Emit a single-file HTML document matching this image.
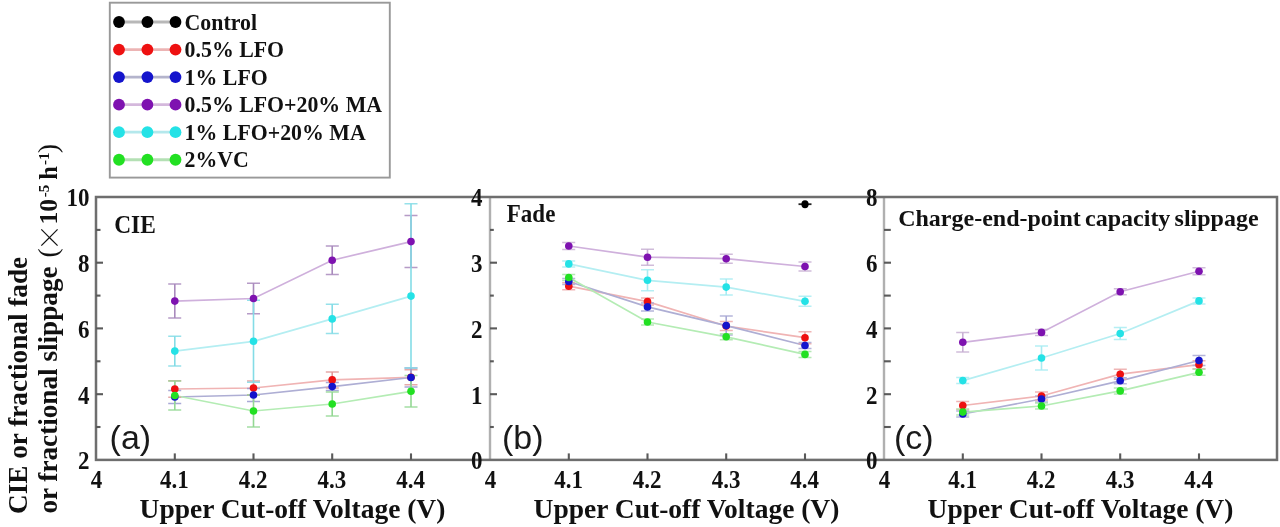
<!DOCTYPE html>
<html><head><meta charset="utf-8"><style>
html,body{margin:0;padding:0;background:#fff;}
body{width:1280px;height:527px;overflow:hidden;}
svg{display:block;filter:blur(0.55px);}
text{font-family:"Liberation Serif", "Times New Roman", serif;font-weight:bold;fill:#111;}
.lg{font-size:21.85px;}
.tk{font-size:23px;}
.xl{font-size:27.5px;}
.ttl{font-size:23px;}
.pl{font-family:"Liberation Sans", Arial, sans-serif;font-weight:normal;font-size:34px;fill:#1a1a1a;}
.yl{font-size:27.2px;}
.cj{font-family:"Noto Serif CJK SC","Noto Sans CJK SC",serif;font-weight:normal;font-size:28px;}
.rg{font-weight:normal;}
.ym{font-size:25.5px;}
.sup{font-size:15px;}
</style></head><body>
<svg width="1280" height="527" viewBox="0 0 1280 527">
<rect x="109.8" y="2.7" width="280" height="174.9" fill="#fff" stroke="#999" stroke-width="1.9"/>
<line x1="119" y1="22.0" x2="175.5" y2="22.0" stroke="#b8b8b8" stroke-width="2.8"/>
<circle cx="119" cy="22.0" r="5.9" fill="#000000"/>
<circle cx="147.4" cy="22.0" r="5.9" fill="#000000"/>
<circle cx="175.5" cy="22.0" r="5.9" fill="#000000"/>
<text transform="translate(184.6,29.7) scale(1,1.06)" class="lg">Control</text>
<line x1="119" y1="49.55" x2="175.5" y2="49.55" stroke="#ecb4b4" stroke-width="2.8"/>
<circle cx="119" cy="49.55" r="5.9" fill="#ee1111"/>
<circle cx="147.4" cy="49.55" r="5.9" fill="#ee1111"/>
<circle cx="175.5" cy="49.55" r="5.9" fill="#ee1111"/>
<text transform="translate(184.6,57.2) scale(1,1.06)" class="lg">0.5% LFO</text>
<line x1="119" y1="77.1" x2="175.5" y2="77.1" stroke="#b4b4cc" stroke-width="2.8"/>
<circle cx="119" cy="77.1" r="5.9" fill="#1414cc"/>
<circle cx="147.4" cy="77.1" r="5.9" fill="#1414cc"/>
<circle cx="175.5" cy="77.1" r="5.9" fill="#1414cc"/>
<text transform="translate(184.6,84.8) scale(1,1.06)" class="lg">1% LFO</text>
<line x1="119" y1="104.65" x2="175.5" y2="104.65" stroke="#d4b8dc" stroke-width="2.8"/>
<circle cx="119" cy="104.65" r="5.9" fill="#7e12b0"/>
<circle cx="147.4" cy="104.65" r="5.9" fill="#7e12b0"/>
<circle cx="175.5" cy="104.65" r="5.9" fill="#7e12b0"/>
<text transform="translate(184.6,112.4) scale(1,1.06)" class="lg">0.5% LFO+20% MA</text>
<line x1="119" y1="132.2" x2="175.5" y2="132.2" stroke="#b4e8ec" stroke-width="2.8"/>
<circle cx="119" cy="132.2" r="5.9" fill="#24e2e6"/>
<circle cx="147.4" cy="132.2" r="5.9" fill="#24e2e6"/>
<circle cx="175.5" cy="132.2" r="5.9" fill="#24e2e6"/>
<text transform="translate(184.6,139.9) scale(1,1.06)" class="lg">1% LFO+20% MA</text>
<line x1="119" y1="159.75" x2="175.5" y2="159.75" stroke="#b4e0b4" stroke-width="2.8"/>
<circle cx="119" cy="159.75" r="5.9" fill="#22e022"/>
<circle cx="147.4" cy="159.75" r="5.9" fill="#22e022"/>
<circle cx="175.5" cy="159.75" r="5.9" fill="#22e022"/>
<text transform="translate(184.6,167.4) scale(1,1.06)" class="lg">2%VC</text>
<line x1="490.0" y1="197.0" x2="490.0" y2="459.9" stroke="#b0b0b0" stroke-width="2.4"/>
<line x1="884.0" y1="197.0" x2="884.0" y2="459.9" stroke="#b0b0b0" stroke-width="2.4"/>
<rect x="96.0" y="197.0" width="1181.0" height="262.9" fill="none" stroke="#6e6e6e" stroke-width="2.5"/>
<line x1="96.0" y1="427.0" x2="100.5" y2="427.0" stroke="#5a5a5a" stroke-width="2.1"/>
<line x1="96.0" y1="394.2" x2="103.0" y2="394.2" stroke="#5a5a5a" stroke-width="2.1"/>
<line x1="96.0" y1="361.3" x2="100.5" y2="361.3" stroke="#5a5a5a" stroke-width="2.1"/>
<line x1="96.0" y1="328.4" x2="103.0" y2="328.4" stroke="#5a5a5a" stroke-width="2.1"/>
<line x1="96.0" y1="295.6" x2="100.5" y2="295.6" stroke="#5a5a5a" stroke-width="2.1"/>
<line x1="96.0" y1="262.7" x2="103.0" y2="262.7" stroke="#5a5a5a" stroke-width="2.1"/>
<line x1="96.0" y1="229.9" x2="100.5" y2="229.9" stroke="#5a5a5a" stroke-width="2.1"/>
<line x1="174.8" y1="459.9" x2="174.8" y2="453.4" stroke="#5a5a5a" stroke-width="2.1"/>
<line x1="253.5" y1="459.9" x2="253.5" y2="453.4" stroke="#5a5a5a" stroke-width="2.1"/>
<line x1="332.2" y1="459.9" x2="332.2" y2="453.4" stroke="#5a5a5a" stroke-width="2.1"/>
<line x1="411.0" y1="459.9" x2="411.0" y2="453.4" stroke="#5a5a5a" stroke-width="2.1"/>
<line x1="490.0" y1="427.0" x2="493.8" y2="427.0" stroke="#5a5a5a" stroke-width="2.1"/>
<line x1="490.0" y1="394.2" x2="497.0" y2="394.2" stroke="#5a5a5a" stroke-width="2.1"/>
<line x1="490.0" y1="361.3" x2="493.8" y2="361.3" stroke="#5a5a5a" stroke-width="2.1"/>
<line x1="490.0" y1="328.4" x2="497.0" y2="328.4" stroke="#5a5a5a" stroke-width="2.1"/>
<line x1="490.0" y1="295.6" x2="493.8" y2="295.6" stroke="#5a5a5a" stroke-width="2.1"/>
<line x1="490.0" y1="262.7" x2="497.0" y2="262.7" stroke="#5a5a5a" stroke-width="2.1"/>
<line x1="490.0" y1="229.9" x2="493.8" y2="229.9" stroke="#5a5a5a" stroke-width="2.1"/>
<line x1="568.8" y1="459.9" x2="568.8" y2="453.4" stroke="#5a5a5a" stroke-width="2.1"/>
<line x1="647.5" y1="459.9" x2="647.5" y2="453.4" stroke="#5a5a5a" stroke-width="2.1"/>
<line x1="726.2" y1="459.9" x2="726.2" y2="453.4" stroke="#5a5a5a" stroke-width="2.1"/>
<line x1="805.0" y1="459.9" x2="805.0" y2="453.4" stroke="#5a5a5a" stroke-width="2.1"/>
<line x1="884.0" y1="427.0" x2="890.8" y2="427.0" stroke="#5a5a5a" stroke-width="2.1"/>
<line x1="884.0" y1="394.2" x2="891.0" y2="394.2" stroke="#5a5a5a" stroke-width="2.1"/>
<line x1="884.0" y1="361.3" x2="890.8" y2="361.3" stroke="#5a5a5a" stroke-width="2.1"/>
<line x1="884.0" y1="328.4" x2="891.0" y2="328.4" stroke="#5a5a5a" stroke-width="2.1"/>
<line x1="884.0" y1="295.6" x2="890.8" y2="295.6" stroke="#5a5a5a" stroke-width="2.1"/>
<line x1="884.0" y1="262.7" x2="891.0" y2="262.7" stroke="#5a5a5a" stroke-width="2.1"/>
<line x1="884.0" y1="229.9" x2="890.8" y2="229.9" stroke="#5a5a5a" stroke-width="2.1"/>
<line x1="962.8" y1="459.9" x2="962.8" y2="453.4" stroke="#5a5a5a" stroke-width="2.1"/>
<line x1="1041.5" y1="459.9" x2="1041.5" y2="453.4" stroke="#5a5a5a" stroke-width="2.1"/>
<line x1="1120.2" y1="459.9" x2="1120.2" y2="453.4" stroke="#5a5a5a" stroke-width="2.1"/>
<line x1="1199.0" y1="459.9" x2="1199.0" y2="453.4" stroke="#5a5a5a" stroke-width="2.1"/>
<polyline points="174.8,389.0 253.5,388.0 332.2,379.9 411.0,377.3" fill="none" stroke="#f0b4b4" stroke-width="1.7"/>
<polyline points="174.8,397.0 253.5,395.0 332.2,386.6 411.0,377.5" fill="none" stroke="#aeaed4" stroke-width="1.7"/>
<polyline points="174.8,301.1 253.5,298.5 332.2,260.2 411.0,241.6" fill="none" stroke="#cfb0dc" stroke-width="1.7"/>
<polyline points="174.8,351.1 253.5,341.3 332.2,318.9 411.0,296.1" fill="none" stroke="#b4eef2" stroke-width="1.7"/>
<polyline points="174.8,395.5 253.5,411.0 332.2,404.0 411.0,391.3" fill="none" stroke="#b4ecb4" stroke-width="1.7"/>
<path d="M174.8 380.8V397.2" stroke="#e29a9a" stroke-width="1.6" fill="none"/><path d="M168.2 380.8h13M168.2 397.2h13" stroke="#e29a9a" stroke-width="1.5" fill="none" opacity="0.85"/>
<path d="M253.5 381.0V395.0" stroke="#e29a9a" stroke-width="1.6" fill="none"/><path d="M247.0 381.0h13M247.0 395.0h13" stroke="#e29a9a" stroke-width="1.5" fill="none" opacity="0.85"/>
<path d="M332.2 371.9V387.9" stroke="#e29a9a" stroke-width="1.6" fill="none"/><path d="M325.8 371.9h13M325.8 387.9h13" stroke="#e29a9a" stroke-width="1.5" fill="none" opacity="0.85"/>
<path d="M411.0 369.8V384.8" stroke="#e29a9a" stroke-width="1.6" fill="none"/><path d="M404.5 369.8h13M404.5 384.8h13" stroke="#e29a9a" stroke-width="1.5" fill="none" opacity="0.85"/>
<path d="M174.8 390.5V403.5" stroke="#9a9ad0" stroke-width="1.6" fill="none"/><path d="M168.2 390.5h13M168.2 403.5h13" stroke="#9a9ad0" stroke-width="1.5" fill="none" opacity="0.85"/>
<path d="M253.5 388.4V401.6" stroke="#9a9ad0" stroke-width="1.6" fill="none"/><path d="M247.0 388.4h13M247.0 401.6h13" stroke="#9a9ad0" stroke-width="1.5" fill="none" opacity="0.85"/>
<path d="M332.2 382.6V390.6" stroke="#9a9ad0" stroke-width="1.6" fill="none"/><path d="M325.8 382.6h13M325.8 390.6h13" stroke="#9a9ad0" stroke-width="1.5" fill="none" opacity="0.85"/>
<path d="M411.0 368.0V387.0" stroke="#9a9ad0" stroke-width="1.6" fill="none"/><path d="M404.5 368.0h13M404.5 387.0h13" stroke="#9a9ad0" stroke-width="1.5" fill="none" opacity="0.85"/>
<path d="M174.8 284.1V318.1" stroke="#a98abd" stroke-width="1.6" fill="none"/><path d="M168.2 284.1h13M168.2 318.1h13" stroke="#a98abd" stroke-width="1.5" fill="none" opacity="0.85"/>
<path d="M253.5 283.3V313.7" stroke="#a98abd" stroke-width="1.6" fill="none"/><path d="M247.0 283.3h13M247.0 313.7h13" stroke="#a98abd" stroke-width="1.5" fill="none" opacity="0.85"/>
<path d="M332.2 246.0V274.4" stroke="#a98abd" stroke-width="1.6" fill="none"/><path d="M325.8 246.0h13M325.8 274.4h13" stroke="#a98abd" stroke-width="1.5" fill="none" opacity="0.85"/>
<path d="M411.0 215.6V267.6" stroke="#a98abd" stroke-width="1.6" fill="none"/><path d="M404.5 215.6h13M404.5 267.6h13" stroke="#a98abd" stroke-width="1.5" fill="none" opacity="0.85"/>
<path d="M174.8 336.3V365.9" stroke="#84dce6" stroke-width="1.6" fill="none"/><path d="M168.2 336.3h13M168.2 365.9h13" stroke="#84dce6" stroke-width="1.5" fill="none" opacity="0.85"/>
<path d="M253.5 300.3V382.3" stroke="#84dce6" stroke-width="1.6" fill="none"/><path d="M247.0 300.3h13M247.0 382.3h13" stroke="#84dce6" stroke-width="1.5" fill="none" opacity="0.85"/>
<path d="M332.2 304.3V333.5" stroke="#84dce6" stroke-width="1.6" fill="none"/><path d="M325.8 304.3h13M325.8 333.5h13" stroke="#84dce6" stroke-width="1.5" fill="none" opacity="0.85"/>
<path d="M411.0 203.7V368.0" stroke="#84dce6" stroke-width="1.6" fill="none"/><path d="M404.5 203.7h13M404.5 368.0h13" stroke="#84dce6" stroke-width="1.5" fill="none" opacity="0.85"/>
<path d="M174.8 381.0V410.0" stroke="#94d894" stroke-width="1.6" fill="none"/><path d="M168.2 381.0h13M168.2 410.0h13" stroke="#94d894" stroke-width="1.5" fill="none" opacity="0.85"/>
<path d="M253.5 395.0V427.0" stroke="#94d894" stroke-width="1.6" fill="none"/><path d="M247.0 395.0h13M247.0 427.0h13" stroke="#94d894" stroke-width="1.5" fill="none" opacity="0.85"/>
<path d="M332.2 392.0V416.0" stroke="#94d894" stroke-width="1.6" fill="none"/><path d="M325.8 392.0h13M325.8 416.0h13" stroke="#94d894" stroke-width="1.5" fill="none" opacity="0.85"/>
<path d="M411.0 375.6V407.0" stroke="#94d894" stroke-width="1.6" fill="none"/><path d="M404.5 375.6h13M404.5 407.0h13" stroke="#94d894" stroke-width="1.5" fill="none" opacity="0.85"/>
<circle cx="174.8" cy="389.0" r="3.8" fill="#ee1111"/>
<circle cx="253.5" cy="388.0" r="3.8" fill="#ee1111"/>
<circle cx="332.2" cy="379.9" r="3.8" fill="#ee1111"/>
<circle cx="411.0" cy="377.3" r="3.8" fill="#ee1111"/>
<circle cx="174.8" cy="397.0" r="3.8" fill="#1414cc"/>
<circle cx="253.5" cy="395.0" r="3.8" fill="#1414cc"/>
<circle cx="332.2" cy="386.6" r="3.8" fill="#1414cc"/>
<circle cx="411.0" cy="377.5" r="3.8" fill="#1414cc"/>
<circle cx="174.8" cy="301.1" r="3.8" fill="#7e12b0"/>
<circle cx="253.5" cy="298.5" r="3.8" fill="#7e12b0"/>
<circle cx="332.2" cy="260.2" r="3.8" fill="#7e12b0"/>
<circle cx="411.0" cy="241.6" r="3.8" fill="#7e12b0"/>
<circle cx="174.8" cy="351.1" r="3.8" fill="#24e2e6"/>
<circle cx="253.5" cy="341.3" r="3.8" fill="#24e2e6"/>
<circle cx="332.2" cy="318.9" r="3.8" fill="#24e2e6"/>
<circle cx="411.0" cy="296.1" r="3.8" fill="#24e2e6"/>
<circle cx="174.8" cy="395.5" r="3.8" fill="#22e022"/>
<circle cx="253.5" cy="411.0" r="3.8" fill="#22e022"/>
<circle cx="332.2" cy="404.0" r="3.8" fill="#22e022"/>
<circle cx="411.0" cy="391.3" r="3.8" fill="#22e022"/>
<polyline points="568.8,286.2 647.5,301.6 726.2,326.0 805.0,337.7" fill="none" stroke="#f0b4b4" stroke-width="1.7"/>
<polyline points="568.8,281.5 647.5,306.9 726.2,325.6 805.0,345.5" fill="none" stroke="#aeaed4" stroke-width="1.7"/>
<polyline points="568.8,246.0 647.5,257.2 726.2,258.7 805.0,266.5" fill="none" stroke="#cfb0dc" stroke-width="1.7"/>
<polyline points="568.8,263.9 647.5,280.3 726.2,287.1 805.0,301.3" fill="none" stroke="#b4eef2" stroke-width="1.7"/>
<polyline points="568.8,277.5 647.5,322.0 726.2,336.8 805.0,354.4" fill="none" stroke="#b4ecb4" stroke-width="1.7"/>
<path d="M568.8 282.7V289.7" stroke="#eca8a8" stroke-width="1.6" fill="none"/><path d="M562.2 282.7h13M562.2 289.7h13" stroke="#eca8a8" stroke-width="1.5" fill="none" opacity="0.85"/>
<path d="M647.5 298.1V305.1" stroke="#eca8a8" stroke-width="1.6" fill="none"/><path d="M641.0 298.1h13M641.0 305.1h13" stroke="#eca8a8" stroke-width="1.5" fill="none" opacity="0.85"/>
<path d="M726.2 321.5V330.5" stroke="#eca8a8" stroke-width="1.6" fill="none"/><path d="M719.8 321.5h13M719.8 330.5h13" stroke="#eca8a8" stroke-width="1.5" fill="none" opacity="0.85"/>
<path d="M805.0 331.7V343.7" stroke="#eca8a8" stroke-width="1.6" fill="none"/><path d="M798.5 331.7h13M798.5 343.7h13" stroke="#eca8a8" stroke-width="1.5" fill="none" opacity="0.85"/>
<path d="M568.8 278.5V284.5" stroke="#a8a8d4" stroke-width="1.6" fill="none"/><path d="M562.2 278.5h13M562.2 284.5h13" stroke="#a8a8d4" stroke-width="1.5" fill="none" opacity="0.85"/>
<path d="M647.5 302.9V310.9" stroke="#a8a8d4" stroke-width="1.6" fill="none"/><path d="M641.0 302.9h13M641.0 310.9h13" stroke="#a8a8d4" stroke-width="1.5" fill="none" opacity="0.85"/>
<path d="M726.2 316.1V335.1" stroke="#a8a8d4" stroke-width="1.6" fill="none"/><path d="M719.8 316.1h13M719.8 335.1h13" stroke="#a8a8d4" stroke-width="1.5" fill="none" opacity="0.85"/>
<path d="M805.0 342.5V348.5" stroke="#a8a8d4" stroke-width="1.6" fill="none"/><path d="M798.5 342.5h13M798.5 348.5h13" stroke="#a8a8d4" stroke-width="1.5" fill="none" opacity="0.85"/>
<path d="M568.8 242.5V249.5" stroke="#c8b0d4" stroke-width="1.6" fill="none"/><path d="M562.2 242.5h13M562.2 249.5h13" stroke="#c8b0d4" stroke-width="1.5" fill="none" opacity="0.85"/>
<path d="M647.5 249.2V265.2" stroke="#c8b0d4" stroke-width="1.6" fill="none"/><path d="M641.0 249.2h13M641.0 265.2h13" stroke="#c8b0d4" stroke-width="1.5" fill="none" opacity="0.85"/>
<path d="M726.2 254.2V263.2" stroke="#c8b0d4" stroke-width="1.6" fill="none"/><path d="M719.8 254.2h13M719.8 263.2h13" stroke="#c8b0d4" stroke-width="1.5" fill="none" opacity="0.85"/>
<path d="M805.0 262.0V271.0" stroke="#c8b0d4" stroke-width="1.6" fill="none"/><path d="M798.5 262.0h13M798.5 271.0h13" stroke="#c8b0d4" stroke-width="1.5" fill="none" opacity="0.85"/>
<path d="M568.8 260.9V266.9" stroke="#a8ecf2" stroke-width="1.6" fill="none"/><path d="M562.2 260.9h13M562.2 266.9h13" stroke="#a8ecf2" stroke-width="1.5" fill="none" opacity="0.85"/>
<path d="M647.5 269.8V290.8" stroke="#a8ecf2" stroke-width="1.6" fill="none"/><path d="M641.0 269.8h13M641.0 290.8h13" stroke="#a8ecf2" stroke-width="1.5" fill="none" opacity="0.85"/>
<path d="M726.2 279.1V295.1" stroke="#a8ecf2" stroke-width="1.6" fill="none"/><path d="M719.8 279.1h13M719.8 295.1h13" stroke="#a8ecf2" stroke-width="1.5" fill="none" opacity="0.85"/>
<path d="M805.0 296.3V306.3" stroke="#a8ecf2" stroke-width="1.6" fill="none"/><path d="M798.5 296.3h13M798.5 306.3h13" stroke="#a8ecf2" stroke-width="1.5" fill="none" opacity="0.85"/>
<path d="M568.8 274.5V280.5" stroke="#a8e4a8" stroke-width="1.6" fill="none"/><path d="M562.2 274.5h13M562.2 280.5h13" stroke="#a8e4a8" stroke-width="1.5" fill="none" opacity="0.85"/>
<path d="M647.5 319.0V325.0" stroke="#a8e4a8" stroke-width="1.6" fill="none"/><path d="M641.0 319.0h13M641.0 325.0h13" stroke="#a8e4a8" stroke-width="1.5" fill="none" opacity="0.85"/>
<path d="M726.2 333.8V339.8" stroke="#a8e4a8" stroke-width="1.6" fill="none"/><path d="M719.8 333.8h13M719.8 339.8h13" stroke="#a8e4a8" stroke-width="1.5" fill="none" opacity="0.85"/>
<path d="M805.0 351.4V357.4" stroke="#a8e4a8" stroke-width="1.6" fill="none"/><path d="M798.5 351.4h13M798.5 357.4h13" stroke="#a8e4a8" stroke-width="1.5" fill="none" opacity="0.85"/>
<circle cx="568.8" cy="286.2" r="3.8" fill="#ee1111"/>
<circle cx="647.5" cy="301.6" r="3.8" fill="#ee1111"/>
<circle cx="726.2" cy="326.0" r="3.8" fill="#ee1111"/>
<circle cx="805.0" cy="337.7" r="3.8" fill="#ee1111"/>
<circle cx="568.8" cy="281.5" r="3.8" fill="#1414cc"/>
<circle cx="647.5" cy="306.9" r="3.8" fill="#1414cc"/>
<circle cx="726.2" cy="325.6" r="3.8" fill="#1414cc"/>
<circle cx="805.0" cy="345.5" r="3.8" fill="#1414cc"/>
<circle cx="568.8" cy="246.0" r="3.8" fill="#7e12b0"/>
<circle cx="647.5" cy="257.2" r="3.8" fill="#7e12b0"/>
<circle cx="726.2" cy="258.7" r="3.8" fill="#7e12b0"/>
<circle cx="805.0" cy="266.5" r="3.8" fill="#7e12b0"/>
<circle cx="568.8" cy="263.9" r="3.8" fill="#24e2e6"/>
<circle cx="647.5" cy="280.3" r="3.8" fill="#24e2e6"/>
<circle cx="726.2" cy="287.1" r="3.8" fill="#24e2e6"/>
<circle cx="805.0" cy="301.3" r="3.8" fill="#24e2e6"/>
<circle cx="568.8" cy="277.5" r="3.8" fill="#22e022"/>
<circle cx="647.5" cy="322.0" r="3.8" fill="#22e022"/>
<circle cx="726.2" cy="336.8" r="3.8" fill="#22e022"/>
<circle cx="805.0" cy="354.4" r="3.8" fill="#22e022"/>
<polyline points="962.8,405.5 1041.5,396.0 1120.2,374.2 1199.0,364.7" fill="none" stroke="#f0b4b4" stroke-width="1.7"/>
<polyline points="962.8,414.0 1041.5,399.0 1120.2,380.8 1199.0,360.5" fill="none" stroke="#aeaed4" stroke-width="1.7"/>
<polyline points="962.8,342.3 1041.5,332.4 1120.2,291.7 1199.0,271.3" fill="none" stroke="#cfb0dc" stroke-width="1.7"/>
<polyline points="962.8,380.6 1041.5,358.0 1120.2,333.5 1199.0,300.9" fill="none" stroke="#b4eef2" stroke-width="1.7"/>
<polyline points="962.8,412.1 1041.5,406.0 1120.2,390.9 1199.0,372.3" fill="none" stroke="#b4ecb4" stroke-width="1.7"/>
<path d="M962.8 401.5V409.5" stroke="#eca8a8" stroke-width="1.6" fill="none"/><path d="M956.2 401.5h13M956.2 409.5h13" stroke="#eca8a8" stroke-width="1.5" fill="none" opacity="0.85"/>
<path d="M1041.5 392.0V400.0" stroke="#eca8a8" stroke-width="1.6" fill="none"/><path d="M1035.0 392.0h13M1035.0 400.0h13" stroke="#eca8a8" stroke-width="1.5" fill="none" opacity="0.85"/>
<path d="M1120.2 369.2V379.2" stroke="#eca8a8" stroke-width="1.6" fill="none"/><path d="M1113.8 369.2h13M1113.8 379.2h13" stroke="#eca8a8" stroke-width="1.5" fill="none" opacity="0.85"/>
<path d="M1199.0 360.7V368.7" stroke="#eca8a8" stroke-width="1.6" fill="none"/><path d="M1192.5 360.7h13M1192.5 368.7h13" stroke="#eca8a8" stroke-width="1.5" fill="none" opacity="0.85"/>
<path d="M962.8 411.0V417.0" stroke="#a8a8d4" stroke-width="1.6" fill="none"/><path d="M956.2 411.0h13M956.2 417.0h13" stroke="#a8a8d4" stroke-width="1.5" fill="none" opacity="0.85"/>
<path d="M1041.5 396.0V402.0" stroke="#a8a8d4" stroke-width="1.6" fill="none"/><path d="M1035.0 396.0h13M1035.0 402.0h13" stroke="#a8a8d4" stroke-width="1.5" fill="none" opacity="0.85"/>
<path d="M1120.2 377.8V383.8" stroke="#a8a8d4" stroke-width="1.6" fill="none"/><path d="M1113.8 377.8h13M1113.8 383.8h13" stroke="#a8a8d4" stroke-width="1.5" fill="none" opacity="0.85"/>
<path d="M1199.0 355.5V365.5" stroke="#a8a8d4" stroke-width="1.6" fill="none"/><path d="M1192.5 355.5h13M1192.5 365.5h13" stroke="#a8a8d4" stroke-width="1.5" fill="none" opacity="0.85"/>
<path d="M962.8 332.6V352.0" stroke="#c8b0d4" stroke-width="1.6" fill="none"/><path d="M956.2 332.6h13M956.2 352.0h13" stroke="#c8b0d4" stroke-width="1.5" fill="none" opacity="0.85"/>
<path d="M1041.5 329.4V335.4" stroke="#c8b0d4" stroke-width="1.6" fill="none"/><path d="M1035.0 329.4h13M1035.0 335.4h13" stroke="#c8b0d4" stroke-width="1.5" fill="none" opacity="0.85"/>
<path d="M1120.2 288.7V294.7" stroke="#c8b0d4" stroke-width="1.6" fill="none"/><path d="M1113.8 288.7h13M1113.8 294.7h13" stroke="#c8b0d4" stroke-width="1.5" fill="none" opacity="0.85"/>
<path d="M1199.0 267.8V274.8" stroke="#c8b0d4" stroke-width="1.6" fill="none"/><path d="M1192.5 267.8h13M1192.5 274.8h13" stroke="#c8b0d4" stroke-width="1.5" fill="none" opacity="0.85"/>
<path d="M962.8 377.6V383.6" stroke="#a8ecf2" stroke-width="1.6" fill="none"/><path d="M956.2 377.6h13M956.2 383.6h13" stroke="#a8ecf2" stroke-width="1.5" fill="none" opacity="0.85"/>
<path d="M1041.5 346.0V370.0" stroke="#a8ecf2" stroke-width="1.6" fill="none"/><path d="M1035.0 346.0h13M1035.0 370.0h13" stroke="#a8ecf2" stroke-width="1.5" fill="none" opacity="0.85"/>
<path d="M1120.2 327.5V339.5" stroke="#a8ecf2" stroke-width="1.6" fill="none"/><path d="M1113.8 327.5h13M1113.8 339.5h13" stroke="#a8ecf2" stroke-width="1.5" fill="none" opacity="0.85"/>
<path d="M1199.0 297.9V303.9" stroke="#a8ecf2" stroke-width="1.6" fill="none"/><path d="M1192.5 297.9h13M1192.5 303.9h13" stroke="#a8ecf2" stroke-width="1.5" fill="none" opacity="0.85"/>
<path d="M962.8 409.1V415.1" stroke="#a8e4a8" stroke-width="1.6" fill="none"/><path d="M956.2 409.1h13M956.2 415.1h13" stroke="#a8e4a8" stroke-width="1.5" fill="none" opacity="0.85"/>
<path d="M1041.5 403.0V409.0" stroke="#a8e4a8" stroke-width="1.6" fill="none"/><path d="M1035.0 403.0h13M1035.0 409.0h13" stroke="#a8e4a8" stroke-width="1.5" fill="none" opacity="0.85"/>
<path d="M1120.2 387.9V393.9" stroke="#a8e4a8" stroke-width="1.6" fill="none"/><path d="M1113.8 387.9h13M1113.8 393.9h13" stroke="#a8e4a8" stroke-width="1.5" fill="none" opacity="0.85"/>
<path d="M1199.0 369.3V375.3" stroke="#a8e4a8" stroke-width="1.6" fill="none"/><path d="M1192.5 369.3h13M1192.5 375.3h13" stroke="#a8e4a8" stroke-width="1.5" fill="none" opacity="0.85"/>
<circle cx="962.8" cy="405.5" r="3.8" fill="#ee1111"/>
<circle cx="1041.5" cy="396.0" r="3.8" fill="#ee1111"/>
<circle cx="1120.2" cy="374.2" r="3.8" fill="#ee1111"/>
<circle cx="1199.0" cy="364.7" r="3.8" fill="#ee1111"/>
<circle cx="962.8" cy="414.0" r="3.8" fill="#1414cc"/>
<circle cx="1041.5" cy="399.0" r="3.8" fill="#1414cc"/>
<circle cx="1120.2" cy="380.8" r="3.8" fill="#1414cc"/>
<circle cx="1199.0" cy="360.5" r="3.8" fill="#1414cc"/>
<circle cx="962.8" cy="342.3" r="3.8" fill="#7e12b0"/>
<circle cx="1041.5" cy="332.4" r="3.8" fill="#7e12b0"/>
<circle cx="1120.2" cy="291.7" r="3.8" fill="#7e12b0"/>
<circle cx="1199.0" cy="271.3" r="3.8" fill="#7e12b0"/>
<circle cx="962.8" cy="380.6" r="3.8" fill="#24e2e6"/>
<circle cx="1041.5" cy="358.0" r="3.8" fill="#24e2e6"/>
<circle cx="1120.2" cy="333.5" r="3.8" fill="#24e2e6"/>
<circle cx="1199.0" cy="300.9" r="3.8" fill="#24e2e6"/>
<circle cx="962.8" cy="412.1" r="3.8" fill="#22e022"/>
<circle cx="1041.5" cy="406.0" r="3.8" fill="#22e022"/>
<circle cx="1120.2" cy="390.9" r="3.8" fill="#22e022"/>
<circle cx="1199.0" cy="372.3" r="3.8" fill="#22e022"/>
<path d="M798.5 204.2h13" stroke="#222" stroke-width="1.8"/>
<ellipse cx="805.0" cy="204.2" rx="3.6" ry="4" fill="#000"/>
<text transform="translate(89.5,206.3) scale(1,1.09)" class="tk" text-anchor="end">10</text>
<text transform="translate(89.5,272.0) scale(1,1.09)" class="tk" text-anchor="end">8</text>
<text transform="translate(89.5,337.8) scale(1,1.09)" class="tk" text-anchor="end">6</text>
<text transform="translate(89.5,403.5) scale(1,1.09)" class="tk" text-anchor="end">4</text>
<text transform="translate(89.5,469.2) scale(1,1.09)" class="tk" text-anchor="end">2</text>
<text transform="translate(96.5,487.8) scale(1,1.1)" class="tk" text-anchor="middle">4</text>
<text transform="translate(174.4,487.8) scale(1,1.1)" class="tk" text-anchor="middle">4.1</text>
<text transform="translate(253.2,487.8) scale(1,1.1)" class="tk" text-anchor="middle">4.2</text>
<text transform="translate(331.9,487.8) scale(1,1.1)" class="tk" text-anchor="middle">4.3</text>
<text transform="translate(410.7,487.8) scale(1,1.1)" class="tk" text-anchor="middle">4.4</text>
<text x="292.5" y="518" class="xl" text-anchor="middle">Upper Cut-off Voltage (V)</text>
<text x="109.6" y="448.7" class="pl">(a)</text>
<text transform="translate(482.5,206.3) scale(1,1.09)" class="tk" text-anchor="end">4</text>
<text transform="translate(482.5,272.0) scale(1,1.09)" class="tk" text-anchor="end">3</text>
<text transform="translate(482.5,337.8) scale(1,1.09)" class="tk" text-anchor="end">2</text>
<text transform="translate(482.5,403.5) scale(1,1.09)" class="tk" text-anchor="end">1</text>
<text transform="translate(482.5,469.2) scale(1,1.09)" class="tk" text-anchor="end">0</text>
<text transform="translate(490.5,487.8) scale(1,1.1)" class="tk" text-anchor="middle">4</text>
<text transform="translate(568.5,487.8) scale(1,1.1)" class="tk" text-anchor="middle">4.1</text>
<text transform="translate(647.2,487.8) scale(1,1.1)" class="tk" text-anchor="middle">4.2</text>
<text transform="translate(726.0,487.8) scale(1,1.1)" class="tk" text-anchor="middle">4.3</text>
<text transform="translate(804.7,487.8) scale(1,1.1)" class="tk" text-anchor="middle">4.4</text>
<text x="686.5" y="518" class="xl" text-anchor="middle">Upper Cut-off Voltage (V)</text>
<text x="502.0" y="448.7" class="pl">(b)</text>
<text transform="translate(877.5,206.3) scale(1,1.09)" class="tk" text-anchor="end">8</text>
<text transform="translate(877.5,272.0) scale(1,1.09)" class="tk" text-anchor="end">6</text>
<text transform="translate(877.5,337.8) scale(1,1.09)" class="tk" text-anchor="end">4</text>
<text transform="translate(877.5,403.5) scale(1,1.09)" class="tk" text-anchor="end">2</text>
<text transform="translate(877.5,469.2) scale(1,1.09)" class="tk" text-anchor="end">0</text>
<text transform="translate(884.5,487.8) scale(1,1.1)" class="tk" text-anchor="middle">4</text>
<text transform="translate(962.5,487.8) scale(1,1.1)" class="tk" text-anchor="middle">4.1</text>
<text transform="translate(1041.2,487.8) scale(1,1.1)" class="tk" text-anchor="middle">4.2</text>
<text transform="translate(1120.0,487.8) scale(1,1.1)" class="tk" text-anchor="middle">4.3</text>
<text transform="translate(1198.7,487.8) scale(1,1.1)" class="tk" text-anchor="middle">4.4</text>
<text x="1080.5" y="518" class="xl" text-anchor="middle">Upper Cut-off Voltage (V)</text>
<text x="894.0" y="448.7" class="pl">(c)</text>
<text transform="translate(114.2,233.2) scale(1,1.1)" class="ttl" style="font-size:23.4px">CIE</text>
<text transform="translate(506.8,222.4) scale(1,1.05)" class="ttl">Fade</text>
<text x="898.2" y="226" class="ttl" style="font-size:24px;word-spacing:-1.8px">Charge-end-point capacity slippage</text>
<g transform="translate(27.2,512.6) rotate(-90)"><text x="-1.3" y="0" class="yl">CIE or fractional fade</text></g>
<g transform="translate(57.3,512.6) rotate(-90)"><text x="-1.0" y="0" class="yl">or fractional slippage<tspan x="255" class="rg">(</tspan><tspan x="261.2" dy="2.3" class="cj">×</tspan><tspan x="288" dy="-2.3" class="ym">10</tspan><tspan x="315.3" dy="-8.6" class="sup">-5</tspan><tspan x="332.9" dy="8.6" class="ym" style="font-size:24.5px">h</tspan><tspan x="347.6" dy="-8.6" class="sup">-1</tspan><tspan x="359.7" dy="8.6" class="rg">)</tspan></text></g>
</svg>
</body></html>
